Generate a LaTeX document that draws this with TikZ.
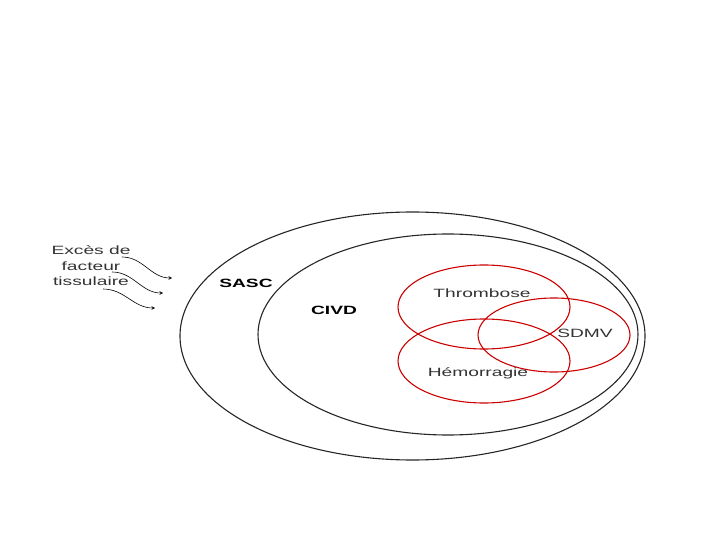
\documentclass[tikz,border=0pt]{standalone}
\usepackage{fontspec}
\usepackage{graphicx}
\setmainfont{Liberation Sans}
\newcommand{\wx}[1]{\scalebox{1.6}[1]{#1}}
\begin{document}
\begin{tikzpicture}[x=1pt,y=-1pt,
  blk/.style={draw=black!85,line width=1.1pt},
  redell/.style={draw=red!80!black,line width=1.1pt},
  lbl/.style={font=\fontsize{12}{15.5}\selectfont,text=black!80,inner sep=0pt},
  blbl/.style={font=\bfseries\fontsize{12}{14}\selectfont,inner sep=0pt},
  arr/.style={->,>=stealth,line width=0.6pt}]
\useasboundingbox (0,0) rectangle (720,540);
\draw[blk] (412.5,336) ellipse [x radius=232.5,y radius=124];
\draw[blk] (448,334.5) ellipse [x radius=190,y radius=100.5];
\draw[redell] (484,307) ellipse [x radius=86,y radius=42];
\draw[redell] (484,361) ellipse [x radius=86,y radius=42];
\draw[redell] (554,335) ellipse [x radius=76,y radius=37];
\node[lbl,align=center] (src) at (91,266) {\wx{Excès de}\\\wx{facteur}\\\wx{tissulaire}};
\node[blbl] (sasc) at (246,283) {\wx{SASC}};
\node[blbl] (civd) at (334,310) {\wx{CIVD}};
\node[lbl] (thr) at (482,293) {\wx{Thrombose}};
\node[lbl] (sdmv) at (585,333) {\wx{SDMV}};
\node[lbl] (hem) at (478,373) {\wx{Hémorragie}};
\coordinate (a1s) at (122,257); \coordinate (a1e) at (172,278);
\coordinate (a2s) at (112,272); \coordinate (a2e) at (163,293);
\coordinate (a3s) at (103,289); \coordinate (a3e) at (155,308);
\draw[arr] (a1s) to[out=0,in=180] (a1e);
\draw[arr] (a2s) to[out=0,in=180] (a2e);
\draw[arr] (a3s) to[out=0,in=180] (a3e);
\end{tikzpicture}
\end{document}
